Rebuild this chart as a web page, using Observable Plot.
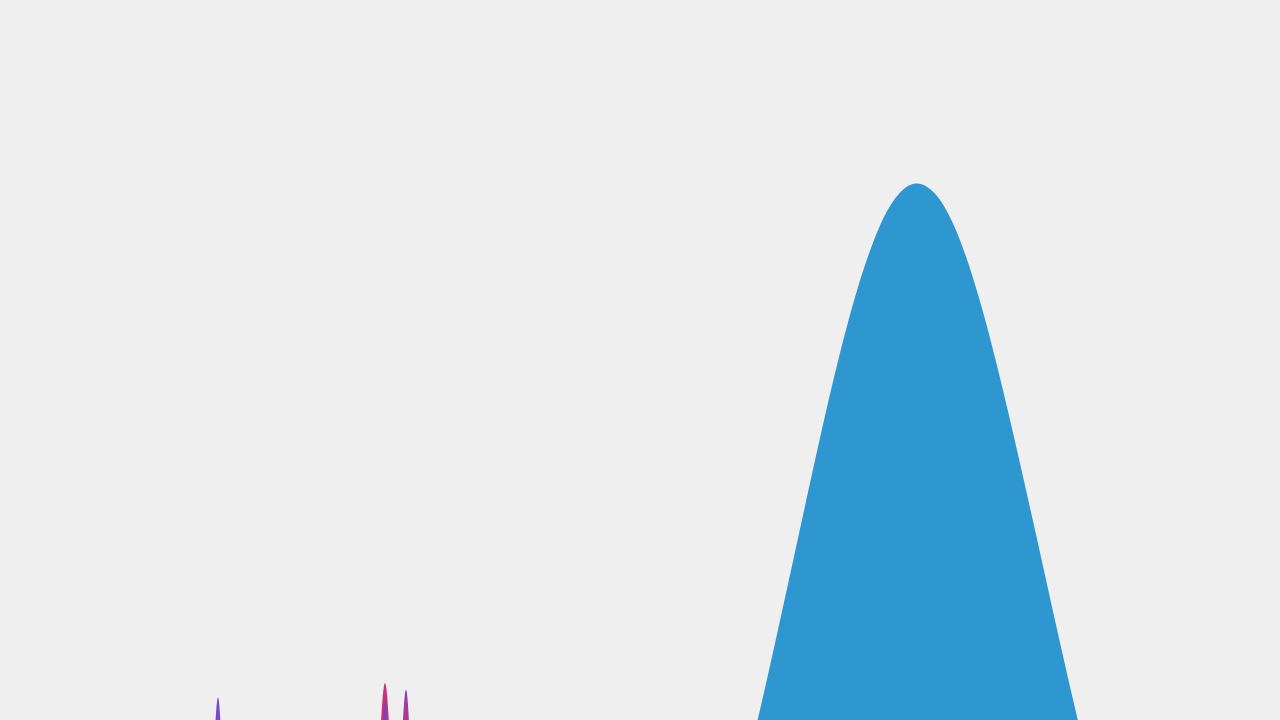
<!DOCTYPE html>
<html>
<head>
<meta charset="utf-8">
<script src="https://cdn.jsdelivr.net/npm/d3@7"></script>
<script src="https://cdn.jsdelivr.net/npm/@observablehq/plot@0.6"></script>
<style>
  html, body { margin: 0; padding: 0; background: #efefef; overflow: hidden; }
  #chart svg { display: block; }
</style>
</head>
<body>
<div id="chart"></div>
<script>
// Large blue density curve
const bigX = [37, 40, 43, 46, 49, 52, 53, 54, 55, 56, 57, 58, 59, 60, 61, 62, 63, 64, 65, 66, 67, 68, 69, 70, 71, 72, 73, 74, 75, 76, 77, 78, 79, 80, 81, 82, 83, 84, 85, 86, 87, 88, 89, 90, 91, 94, 97, 100, 103, 106];
const bigD = [0, 0.003, 0.008, 0.020, 0.045, 0.094, 0.117, 0.144, 0.173, 0.208, 0.247, 0.290, 0.336, 0.386, 0.439, 0.492, 0.546, 0.599, 0.650, 0.697, 0.739, 0.774, 0.803, 0.822, 0.833, 0.834, 0.826, 0.809, 0.783, 0.749, 0.709, 0.663, 0.614, 0.563, 0.511, 0.458, 0.406, 0.355, 0.307, 0.262, 0.220, 0.184, 0.150, 0.122, 0.099, 0.049, 0.022, 0.009, 0.003, 0];

// Purple spike (left)
const purpleAX = [14.8, 15.5, 16.0, 16.4, 16.73, 17.03, 17.33, 17.63, 18.03, 18.53, 19.2];
const purpleAD = [0, 0.011, 0.079, 0.210, 0.319, 0.366, 0.319, 0.210, 0.079, 0.011, 0];

// Magenta spike (middle)
const redBX = [27.48, 28.28, 28.88, 29.38, 29.73, 30.08, 30.43, 30.78, 31.28, 31.88, 32.68];
const redBD = [0, 0.017, 0.094, 0.236, 0.337, 0.379, 0.337, 0.236, 0.094, 0.017, 0];

// Blue core of middle spike
const blueBX = [28.48, 28.98, 29.38, 29.68, 29.88, 30.08, 30.28, 30.48, 30.78, 31.18, 31.68];
const blueBD = [0, 0.008, 0.079, 0.221, 0.321, 0.364, 0.321, 0.221, 0.079, 0.008, 0];

// Purple spike (right)
const purpleCX = [29.52, 30.22, 30.72, 31.12, 31.42, 31.72, 32.02, 32.32, 32.72, 33.22, 33.92];
const purpleCD = [0, 0.016, 0.093, 0.226, 0.329, 0.373, 0.329, 0.226, 0.093, 0.016, 0];

// Magenta core of right spike
const redCX = [30.12, 30.62, 31.02, 31.32, 31.52, 31.72, 31.92, 32.12, 32.42, 32.82, 33.32];
const redCD = [0, 0.009, 0.080, 0.225, 0.327, 0.371, 0.327, 0.225, 0.080, 0.009, 0];

const toRows = (xs, ds) => xs.map((x, i) => ({x, d: ds[i]}));

const series = [
  {rows: toRows(bigX, bigD), fill: "#2e97cf", opacity: 1, curve: "basis"},
  {rows: toRows(purpleAX, purpleAD), fill: "#7b45cf", opacity: 1, curve: "monotone-x"},
  {rows: toRows(redBX, redBD), fill: "#c8327c", opacity: 1, curve: "monotone-x"},
  {rows: toRows(blueBX, blueBD), fill: "#5a4fcf", opacity: 0.85, curve: "monotone-x"},
  {rows: toRows(purpleCX, purpleCD), fill: "#7b45cf", opacity: 1, curve: "monotone-x"},
  {rows: toRows(redCX, redCD), fill: "#b8348a", opacity: 0.95, curve: "monotone-x"}
];

const chart = Plot.plot({
  width: 1280,
  height: 1100,
  margin: 0,
  style: {background: "#efefef"},
  x: {domain: [0, 100], axis: null},
  y: {domain: [0, 1], axis: null},
  marks: series.map(s => Plot.areaY(s.rows, {
    x: "x", y: "d", fill: s.fill, fillOpacity: s.opacity, curve: s.curve
  }))
});
document.getElementById("chart").append(chart);
</script>
</body>
</html>
